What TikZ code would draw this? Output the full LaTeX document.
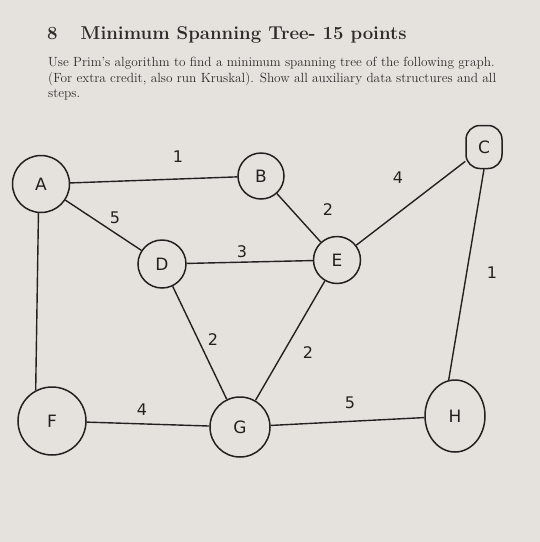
\documentclass[tikz,border=0pt]{standalone}
\usepackage{fontspec}
\usetikzlibrary{shapes.geometric}
\newfontfamily\handfont{DejaVu Sans}
\definecolor{paper}{RGB}{229,226,222}
\definecolor{ink}{RGB}{35,33,32}
\definecolor{printink}{RGB}{45,43,42}
\tikzset{
  vert/.style={circle, draw=ink, line width=1.5pt, inner sep=0pt, font=\handfont\fontsize{17}{17}\selectfont\color{ink}},
  edge/.style={draw=ink, line width=1.4pt},
  wlabel/.style={font=\handfont\fontsize{16}{16}\selectfont\color{ink}, inner sep=0pt},
  bodytext/.style={anchor=base west, inner sep=0pt, text=printink, font=\fontsize{13.3}{16}\selectfont},
}
\begin{document}
\begin{tikzpicture}[x=1pt,y=-1pt]
\fill[paper] (0,0) rectangle (540,542);
\useasboundingbox (0,0) rectangle (540,542);
% heading and text
\node[anchor=base west, inner sep=0pt, text=printink, font=\fontsize{18.6}{22}\selectfont\bfseries] (title) at (47,39) {8\hspace{23pt}Minimum Spanning Tree- 15 points};
\node[bodytext] (l1) at (48,66) {Use Prim's algorithm to find a minimum spanning tree of the following graph.};
\node[bodytext] (l2) at (48,82) {(For extra credit, also run Kruskal). Show all auxiliary data structures and all};
\node[bodytext] (l3) at (48,97) {steps.};
% vertices
\node[vert, minimum size=57pt] (A) at (41,184) {A};
\node[vert, minimum size=46pt] (B) at (261,176) {B};
\node[vert, rounded corners=14pt, rectangle, minimum width=36pt, minimum height=43pt] (C) at (484,147) {C};
\node[vert, minimum size=48pt] (D) at (162,264) {D};
\node[vert, minimum size=47pt] (E) at (337,260) {E};
\node[vert, minimum size=68pt] (F) at (52,421) {F};
\node[vert, minimum size=60pt] (G) at (240,427) {G};
\node[vert, ellipse, minimum width=60pt, minimum height=72pt] at (455,416) (H) {H};
% edges
\draw[edge] (A) -- (B);
\draw[edge] (A) -- (D);
\draw[edge] (A.-95) -- (F.118);
\draw[edge] (B) -- (E);
\draw[edge] (D) -- (E);
\draw[edge] (D) -- (G);
\draw[edge] (E) -- (C);
\draw[edge] (E) -- (G);
\draw[edge] (C.south) -- (H.100);
\draw[edge] (F) -- (G);
\draw[edge] (G) -- (H);
% weights
\node[wlabel] (wAB) at (178,157) {1};
\node[wlabel] (wAD) at (115,218) {5};
\node[wlabel] (wDE) at (242,252) {3};
\node[wlabel] (wBE) at (328,210) {2};
\node[wlabel] (wEC) at (398,178) {4};
\node[wlabel] (wCH) at (492,273) {1};
\node[wlabel] (wDG) at (213,340) {2};
\node[wlabel] (wEG) at (308,353) {2};
\node[wlabel] (wFG) at (142,410) {4};
\node[wlabel] (wGH) at (350,403) {5};
\end{tikzpicture}
\end{document}
